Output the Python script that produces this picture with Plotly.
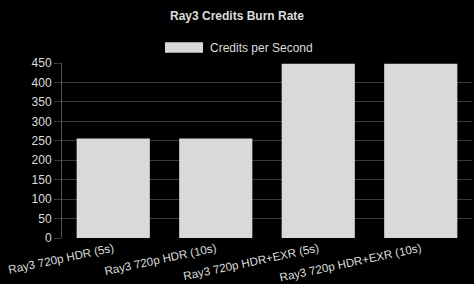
import plotly.graph_objects as go

categories = ["Ray3 720p HDR (5s)", "Ray3 720p HDR (10s)",
              "Ray3 720p HDR+EXR (5s)", "Ray3 720p HDR+EXR (10s)"]
credits_per_second = [256, 256, 448, 448]
series_name = "Credits per Second"
title_text = "Ray3 Credits Burn Rate"
y_ticks = list(range(0, 451, 50))

W, H = 474, 284
L, R, T, B = 62, 472, 63, 238
pw, ph = R - L, B - T

def px(x):
    return (x - L) / pw

def py(y):
    return (B - y) / ph

bar_color = "#d9d9d9"
text_color = "#dddddd"
grid_color = "#3a3a3a"
font = "Liberation Sans, Arial, sans-serif"

fig = go.Figure(go.Bar(
    x=categories, y=credits_per_second, name=series_name,
    marker=dict(color=bar_color, line=dict(width=0)),
    showlegend=False,
))

fig.update_layout(
    width=W, height=H,
    paper_bgcolor="#000000", plot_bgcolor="#000000",
    margin=dict(l=L, r=W - R, t=T, b=H - B, pad=0),
    bargap=0.286,
    font=dict(family=font, size=12, color=text_color),
    title=dict(text="<b>" + title_text + "</b>", x=0.5, xanchor="center",
               y=1 - 16 / H, yanchor="middle",
               font=dict(family=font, size=12, color=text_color)),
    xaxis=dict(showgrid=False, showline=False, ticks="", tickangle=-12,
               ticklabelstandoff=1,
               tickfont=dict(size=11.6, color=text_color), automargin=False,
               range=[-0.5, 3.5]),
    yaxis=dict(range=[0, 450], tickvals=y_ticks, showgrid=True,
               gridcolor=grid_color, gridwidth=1, zeroline=False,
               showline=True, linecolor="#555555", linewidth=1,
               ticks="outside", ticklen=7, tickcolor=grid_color,
               tickfont=dict(size=12, color=text_color), automargin=False),
    shapes=[dict(type="rect", xref="paper", yref="paper",
                 x0=px(165), x1=px(203), y0=py(52.7), y1=py(42.3),
                 fillcolor=bar_color, line=dict(width=0))],
    annotations=[dict(text=series_name, xref="paper", yref="paper",
                      x=px(208), y=py(47.5), xanchor="left", yanchor="middle",
                      showarrow=False,
                      font=dict(family=font, size=12, color=text_color))],
)

fig.write_html("out.html")
